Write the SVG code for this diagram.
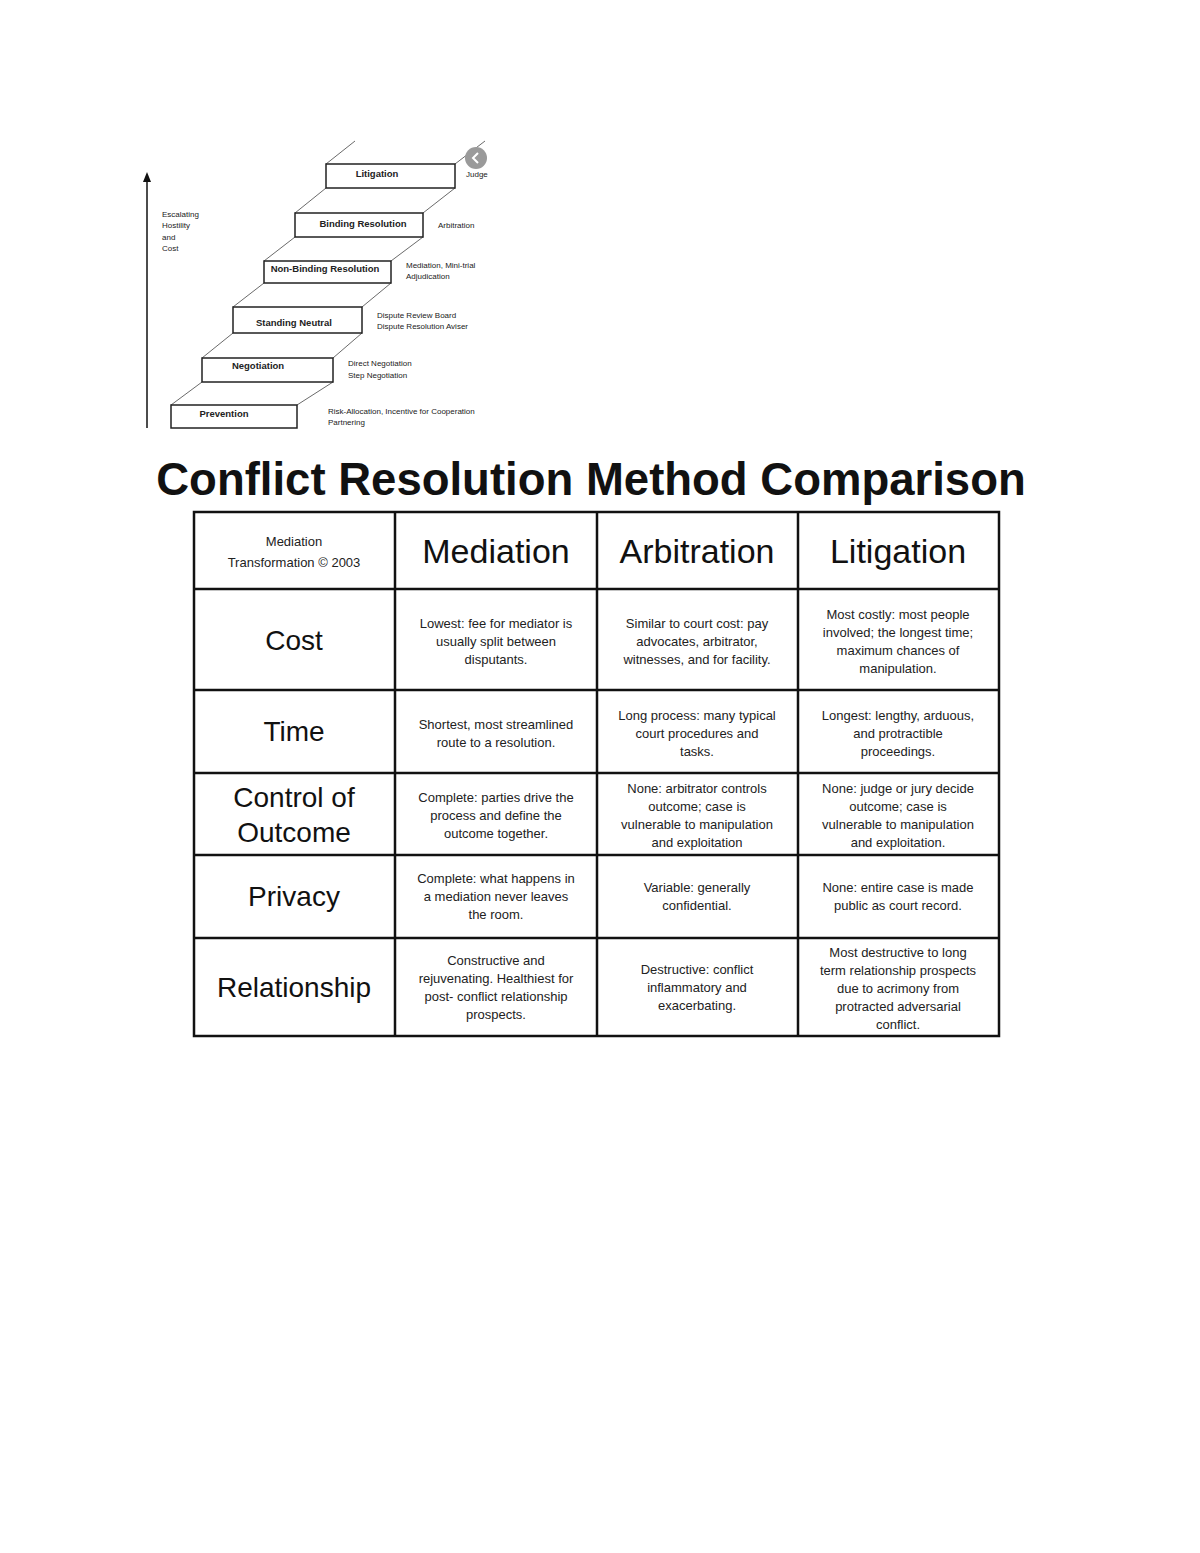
<svg xmlns="http://www.w3.org/2000/svg" width="1200" height="1553" viewBox="0 0 1200 1553">
<style>
.bx{fill:#fff;stroke:#222;stroke-width:1.5}
.tr{fill:none;stroke:#444;stroke-width:0.8}
.bl{font-family:"Liberation Sans",Arial,sans-serif;font-size:9.5px;font-weight:bold;fill:#222;text-anchor:middle}
.sl{font-family:"Liberation Sans",Arial,sans-serif;font-size:8px;fill:#222}
.ln{stroke:#111;stroke-width:2.5;fill:none}
.c{font-family:"Liberation Sans",Arial,sans-serif;font-size:13px;fill:#222;text-anchor:middle}
.h{font-family:"Liberation Sans",Arial,sans-serif;font-size:34px;fill:#111;text-anchor:middle}
.r{font-family:"Liberation Sans",Arial,sans-serif;font-size:28px;fill:#111;text-anchor:middle}
</style>
<rect width="1200" height="1553" fill="#fff"/>
<g id="stairs">
<path class="tr" d="M171,405 L202,382 M297,405 L333,382 M202,358 L233,333 M333,358 L362,333 M233,307 L264,283 M362,307 L391,283 M264,261 L295,237 M391,261 L423,237 M295,213 L326,188 M423,213 L455,188 M326,164 L355,141 M455,164 L485,141"/>
</g>
<g id="arrow"><line x1="147" y1="428" x2="147" y2="180" stroke="#111" stroke-width="1.5"/><polygon points="147,172 143,182 151,182" fill="#111"/></g>
<text class="sl" x="162" y="217">Escalating</text>
<text class="sl" x="162" y="228">Hostility</text>
<text class="sl" x="162" y="240">and</text>
<text class="sl" x="162" y="251">Cost</text>
<g id="n-prevention"><rect class="bx" x="171" y="405" width="126" height="23"/><text class="bl" x="224" y="417">Prevention</text></g>
<g id="n-negotiation"><rect class="bx" x="202" y="358" width="131" height="24"/><text class="bl" x="258" y="369">Negotiation</text></g>
<g id="n-standing"><rect class="bx" x="233" y="307" width="129" height="26"/><text class="bl" x="294" y="326">Standing Neutral</text></g>
<g id="n-nonbinding"><rect class="bx" x="264" y="261" width="127" height="22"/><text class="bl" x="325" y="272">Non-Binding Resolution</text></g>
<g id="n-binding"><rect class="bx" x="295" y="213" width="128" height="24"/><text class="bl" x="363" y="227">Binding Resolution</text></g>
<g id="n-litigation"><rect class="bx" x="326" y="164" width="129" height="24"/><text class="bl" x="377" y="177">Litigation</text></g>
<text class="sl" x="466" y="177">Judge</text>
<text class="sl" x="438" y="228">Arbitration</text>
<text class="sl" x="406" y="268">Mediation, Mini-trial</text>
<text class="sl" x="406" y="279">Adjudication</text>
<text class="sl" x="377" y="318">Dispute Review Board</text>
<text class="sl" x="377" y="329">Dispute Resolution Aviser</text>
<text class="sl" x="348" y="366">Direct Negotiation</text>
<text class="sl" x="348" y="378">Step Negotiation</text>
<text class="sl" x="328" y="414">Risk-Allocation, Incentive for Cooperation</text>
<text class="sl" x="328" y="425">Partnering</text>
<circle cx="476" cy="158" r="11" fill="#9a9a9a"/><path d="M478,153 L473,158 L478,163" stroke="#fff" stroke-width="2" fill="none"/>
<text x="591" y="495" font-family="'Liberation Sans',Arial,sans-serif" font-size="45.5" font-weight="bold" text-anchor="middle" fill="#111">Conflict Resolution Method Comparison</text>
<g id="table">
<rect x="194" y="512" width="805" height="524" class="ln"/>
<path class="ln" d="M395,512V1036 M597,512V1036 M798,512V1036 M194,589H999 M194,690H999 M194,773H999 M194,855H999 M194,938H999"/>
<text class="c" x="294" y="546" font-size="16">Mediation</text>
<text class="c" x="294" y="567" font-size="16">Transformation © 2003</text>
<text class="h" x="496" y="563">Mediation</text>
<text class="h" x="697" y="563">Arbitration</text>
<text class="h" x="898" y="563">Litigation</text>
<text class="r" x="294" y="650">Cost</text>
<text class="r" x="294" y="741">Time</text>
<text class="r" x="294" y="807">Control of</text>
<text class="r" x="294" y="842">Outcome</text>
<text class="r" x="294" y="906">Privacy</text>
<text class="r" x="294" y="997">Relationship</text>
<g class="c">
<text x="496" y="628">Lowest: fee for mediator is</text><text x="496" y="646">usually split between</text><text x="496" y="664">disputants.</text>
<text x="697" y="628">Similar to court cost: pay</text><text x="697" y="646">advocates, arbitrator,</text><text x="697" y="664">witnesses, and for facility.</text>
<text x="898" y="619">Most costly: most people</text><text x="898" y="637">involved; the longest time;</text><text x="898" y="655">maximum chances of</text><text x="898" y="673">manipulation.</text>
<text x="496" y="729">Shortest, most streamlined</text><text x="496" y="747">route to a resolution.</text>
<text x="697" y="720">Long process: many typical</text><text x="697" y="738">court procedures and</text><text x="697" y="756">tasks.</text>
<text x="898" y="720">Longest: lengthy, arduous,</text><text x="898" y="738">and protractible</text><text x="898" y="756">proceedings.</text>
<text x="496" y="802">Complete: parties drive the</text><text x="496" y="820">process and define the</text><text x="496" y="838">outcome together.</text>
<text x="697" y="793">None: arbitrator controls</text><text x="697" y="811">outcome; case is</text><text x="697" y="829">vulnerable to manipulation</text><text x="697" y="847">and exploitation</text>
<text x="898" y="793">None: judge or jury decide</text><text x="898" y="811">outcome; case is</text><text x="898" y="829">vulnerable to manipulation</text><text x="898" y="847">and exploitation.</text>
<text x="496" y="883">Complete: what happens in</text><text x="496" y="901">a mediation never leaves</text><text x="496" y="919">the room.</text>
<text x="697" y="892">Variable: generally</text><text x="697" y="910">confidential.</text>
<text x="898" y="892">None: entire case is made</text><text x="898" y="910">public as court record.</text>
<text x="496" y="965">Constructive and</text><text x="496" y="983">rejuvenating. Healthiest for</text><text x="496" y="1001">post- conflict relationship</text><text x="496" y="1019">prospects.</text>
<text x="697" y="974">Destructive: conflict</text><text x="697" y="992">inflammatory and</text><text x="697" y="1010">exacerbating.</text>
<text x="898" y="957">Most destructive to long</text><text x="898" y="975">term relationship prospects</text><text x="898" y="993">due to acrimony from</text><text x="898" y="1011">protracted adversarial</text><text x="898" y="1029">conflict.</text>
</g>
</g>
</svg>
